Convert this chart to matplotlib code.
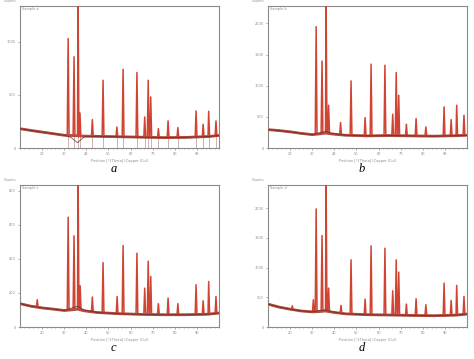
import matplotlib
matplotlib.use('Agg')
import matplotlib.pyplot as plt
import numpy as np

plt.rcParams.update({'font.family': 'DejaVu Sans', 'figure.dpi': 100})

# background knots (2theta) shared by all four patterns
bg_x = [10, 15, 20, 25, 30, 33, 36, 39, 45, 55, 65, 75, 85, 95, 100]

# a
a_bg = [182, 165, 150, 135, 120, 118, 115, 112, 110, 106, 102, 98, 100, 108, 118]
a_fit = [182, 165, 150, 135, 120, 100, 50, 105, 110, 106, 102, 98, 100, 108, 118]
a_pos = [31.77, 34.42, 36.25, 37.1, 42.7, 47.54, 53.8, 56.6, 62.86, 66.38, 67.96,
         69.1, 72.56, 76.95, 81.37, 89.6, 92.8, 95.3, 98.6]
a_top = [1031, 859, 1400, 330, 267, 638, 198, 742, 711, 292, 638,
         481, 182, 255, 192, 349, 223, 346, 255]
a_ticks = [0, 500, 1000]
a_ymax = 1337

# b
b_bg = [295, 280, 260, 235, 215, 225, 240, 225, 205, 195, 200, 195, 190, 198, 205]
b_fit = [295, 280, 260, 235, 215, 240, 265, 235, 205, 195, 200, 195, 190, 198, 205]
b_pos = [31.77, 34.42, 36.25, 37.4, 42.8, 47.54, 53.9, 56.6, 62.86, 66.38, 67.96,
         69.1, 72.56, 76.95, 81.37, 89.6, 92.8, 95.3, 98.6]
b_top = [1948, 1395, 2400, 687, 408, 1078, 488, 1347, 1330, 542, 1212,
         848, 381, 472, 338, 660, 456, 687, 526]
b_ticks = [0, 500, 1000, 1500, 2000]
b_ymax = 2280

# c
c_bg = [137, 122, 112, 105, 97, 100, 105, 95, 85, 78, 74, 72, 72, 75, 82]
c_fit = [137, 122, 112, 105, 97, 110, 122, 100, 85, 78, 74, 72, 72, 75, 82]
c_pos = [17.8, 31.77, 34.42, 36.25, 37.2, 42.7, 47.54, 53.9, 56.6, 62.86, 66.38,
         67.96, 69.1, 72.56, 76.95, 81.37, 89.6, 92.8, 95.3, 98.6]
c_top = [160, 644, 535, 900, 242, 176, 378, 179, 478, 433, 228,
         386, 297, 137, 170, 137, 248, 154, 267, 179]
c_ticks = [0, 200, 400, 600, 800]
c_ymax = 833

# d
d_bg = [386, 335, 300, 270, 255, 260, 270, 250, 222, 207, 202, 195, 190, 200, 218]
d_fit = [386, 335, 300, 270, 255, 275, 290, 255, 222, 207, 202, 195, 190, 200, 218]
d_pos = [21.0, 30.5, 31.77, 34.42, 36.25, 37.4, 43.0, 47.54, 53.9, 56.6, 62.86,
         66.38, 67.96, 69.1, 72.56, 76.95, 81.37, 89.6, 92.8, 95.3, 98.6]
d_top = [358, 459, 1988, 1540, 2500, 655, 364, 1131, 470, 1366, 1327,
         610, 1131, 924, 386, 476, 375, 739, 448, 700, 515]
d_ticks = [0, 500, 1000, 1500, 2000]
d_ymax = 2391

panels = [
    ('a', a_bg, a_fit, a_pos, a_top, a_ticks, a_ymax, [0.0422, 0.5877]),
    ('b', b_bg, b_fit, b_pos, b_top, b_ticks, b_ymax, [0.5654, 0.5877]),
    ('c', c_bg, c_fit, c_pos, c_top, c_ticks, c_ymax, [0.0422, 0.0891]),
    ('d', d_bg, d_fit, d_pos, d_top, d_ticks, d_ymax, [0.5654, 0.0891]),
]

W = 0.4  # half base of a peak in degrees
RED = '#d04434'
DARK = '#5a2a24'
GRAY = '#8a8a8a'

fig = plt.figure(figsize=(4.74, 3.59))

for name, bg, fit, pos, top, ticks, ymax, (x0, y0) in panels:
    ax = fig.add_axes([x0, y0, 0.420, 0.3956])
    pos = np.array(pos)
    xs = np.sort(np.concatenate([bg_x, pos - W, pos, pos + W]))
    ys = np.interp(xs, bg_x, bg)
    for p, t in zip(pos, top):
        ys[xs == p] = t
    # measured pattern: thick reddish band along the noisy background
    ax.plot(bg_x, bg, color='#8c3228', lw=2.0, alpha=0.85, zorder=2)
    ax.plot(xs, ys, color=RED, lw=1.1, zorder=3)
    ax.plot(bg_x, fit, color=DARK, lw=0.6, alpha=0.8, zorder=4)
    if name == 'a':
        ax.vlines(pos, 0, np.interp(pos, bg_x, bg), color='#c9a3a0', lw=0.6, zorder=1)

    ax.set_xlim(10, 100)
    ax.set_ylim(0, ymax)
    ax.set_xticks(np.arange(20, 100, 10))
    ax.set_xticks(np.arange(10, 101, 2), minor=True)
    ax.set_yticks(ticks)
    ax.tick_params(labelsize=2.5, colors=GRAY, length=1.5, width=0.5, pad=1.5)
    ax.tick_params(which='minor', length=1, width=0.4, colors=GRAY)
    for s in ax.spines.values():
        s.set_color(GRAY)
        s.set_linewidth(0.8)
    ax.set_xlabel('Position [°2Theta] (Copper (Cu))', fontsize=2.5, color=GRAY, labelpad=2)
    ax.text(-0.02, 1.02, 'Counts', transform=ax.transAxes, fontsize=2.5, color=GRAY,
            ha='right', va='bottom')
    ax.text(0.01, 0.99, 'Sample ' + name, transform=ax.transAxes, fontsize=2.5,
            color=GRAY, ha='left', va='top')
    fig.text(x0 + 0.198, y0 - 0.058, name, fontsize=9, style='italic',
             family='Liberation Serif', ha='center', va='center')

fig.savefig('out.png', dpi=100)
